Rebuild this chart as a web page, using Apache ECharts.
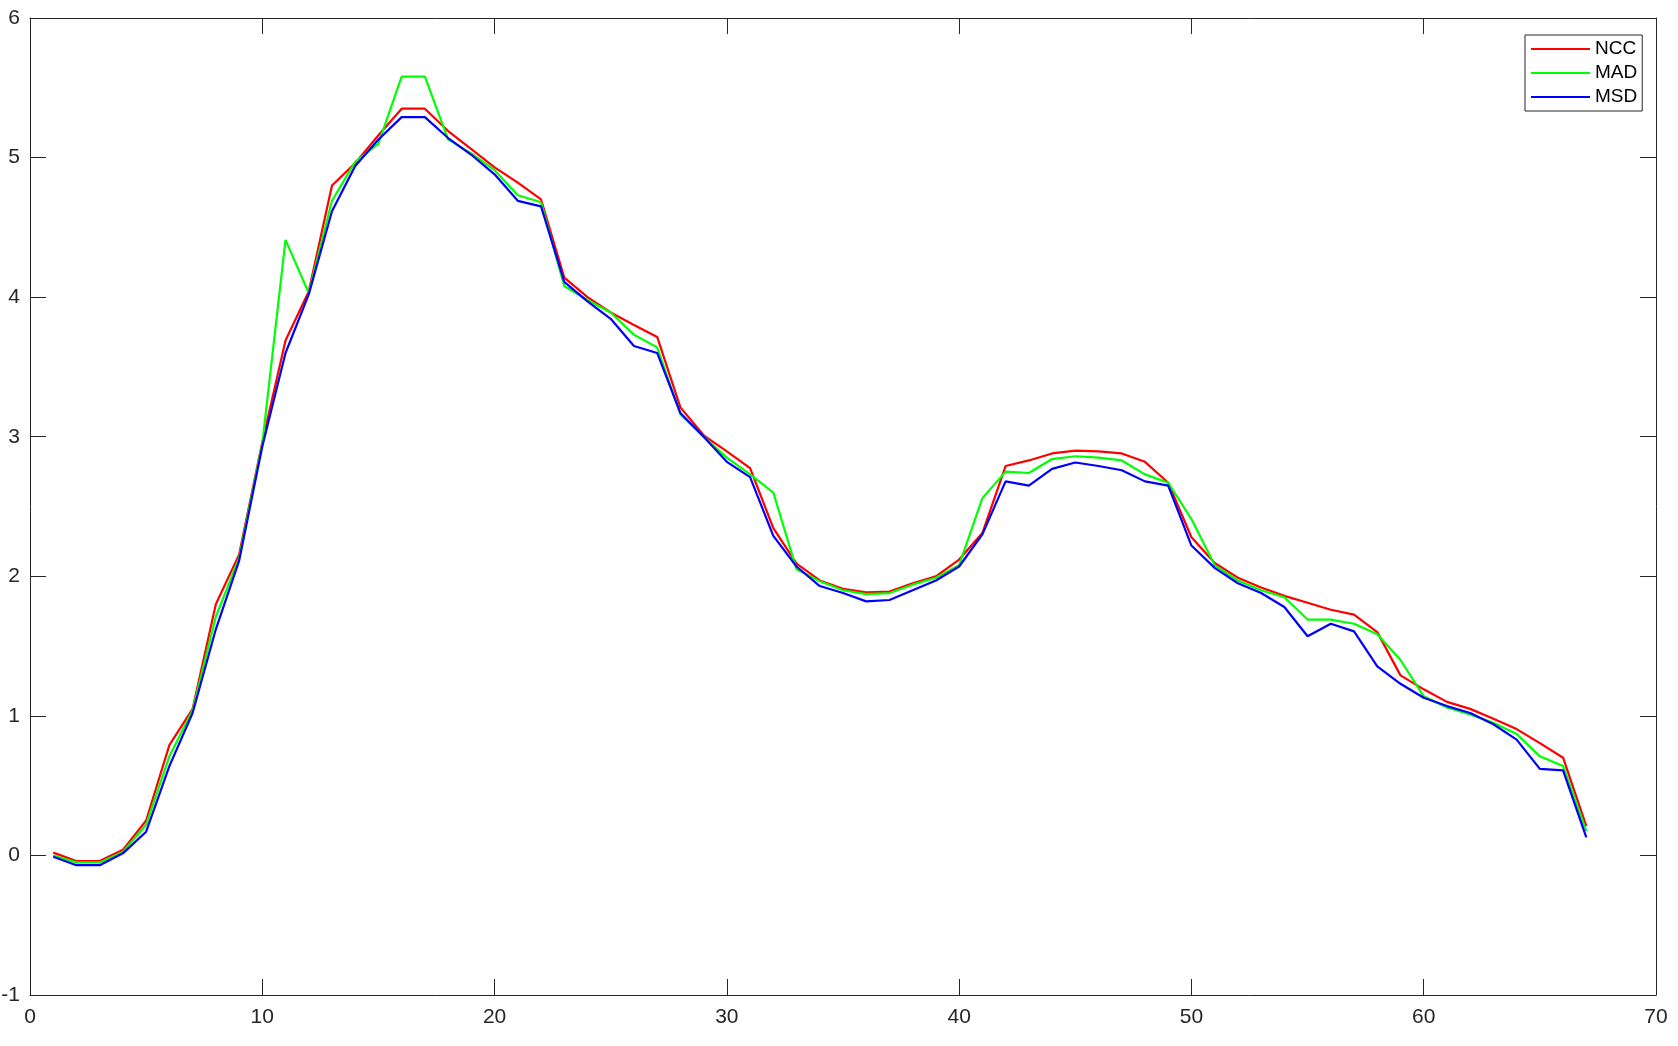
<!DOCTYPE html>
<html>
<head>
<meta charset="utf-8">
<script src="https://cdn.jsdelivr.net/npm/echarts@6/dist/echarts.min.js"></script>
<style>
html,body{margin:0;padding:0;background:#fff;}
#chart{width:1678px;height:1046px;}
</style>
</head>
<body>
<div id="chart"></div>
<script>
var xValues = [];
for (var i = 1; i <= 67; i++) xValues.push(i);

var ncc = [0.02,-0.04,-0.04,0.04,0.25,0.79,1.05,1.80,2.155,2.96,3.69,4.04,4.80,4.96,5.16,5.35,5.35,5.19,5.06,4.93,4.82,4.70,
  4.14,4.00,3.89,3.80,3.715,3.21,3.01,2.895,2.775,2.345,2.09,1.97,1.91,1.885,1.89,1.95,2.00,2.12,2.31,2.79,2.83,2.88,2.90,
  2.895,2.88,2.82,2.67,2.28,2.095,1.99,1.92,1.86,1.81,1.76,1.725,1.60,1.29,1.19,1.10,1.05,0.98,0.905,0.805,0.70,0.21];
var mad = [0.0,-0.05,-0.05,0.025,0.22,0.71,1.04,1.71,2.13,2.95,4.41,4.03,4.69,4.97,5.10,5.58,5.58,5.13,5.03,4.91,4.73,4.68,
  4.08,3.98,3.89,3.73,3.64,3.16,3.00,2.85,2.73,2.60,2.05,1.965,1.90,1.872,1.88,1.94,1.99,2.08,2.56,2.75,2.74,2.84,2.86,
  2.85,2.83,2.73,2.67,2.41,2.08,1.97,1.90,1.85,1.69,1.69,1.66,1.585,1.40,1.14,1.06,1.01,0.95,0.87,0.71,0.64,0.175];
var msd = [-0.01,-0.07,-0.07,0.015,0.17,0.64,1.02,1.62,2.11,2.93,3.60,4.02,4.615,4.94,5.13,5.29,5.29,5.14,5.02,4.88,4.69,4.65,
  4.11,3.97,3.845,3.65,3.60,3.17,3.00,2.82,2.71,2.29,2.07,1.93,1.88,1.82,1.83,1.90,1.97,2.07,2.30,2.68,2.65,2.77,2.815,
  2.79,2.76,2.68,2.65,2.22,2.06,1.95,1.88,1.78,1.57,1.66,1.605,1.355,1.23,1.13,1.07,1.02,0.94,0.83,0.62,0.61,0.13];

var seriesNames = ['NCC','MAD','MSD'];
var seriesColors = ['#ff0000','#00ff00','#0000ff'];
var seriesValues = [ncc, mad, msd];

var xTicks = {min:0, max:70, interval:10};
var yTicks = {min:-1, max:6, interval:1};

function pairs(vals){ return xValues.map(function(x,i){ return [x, vals[i]]; }); }

var axisColor = '#262626';
var font = '"Liberation Sans", Arial, Helvetica, sans-serif';

function axisCommon(){
  return {
    axisLine:{show:true, onZero:false, lineStyle:{color:axisColor, width:1}},
    axisTick:{show:true, inside:true, length:16, lineStyle:{color:axisColor, width:1}},
    splitLine:{show:false}
  };
}

var chart = echarts.init(document.getElementById('chart'));
var option = {
  animation:false,
  backgroundColor:'#ffffff',
  grid:{left:30, right:22, top:18, bottom:51, containLabel:false, outerBoundsMode:'none'},
  legend:{
    data:seriesNames.map(function(n){ return {name:n, icon:'rect'}; }),
    orient:'vertical',
    left:1525, top:35,
    padding:[4,5,4,6],
    itemWidth:59, itemHeight:2, itemGap:4, itemTextGap:5,
    borderColor:axisColor, borderWidth:1, backgroundColor:'#fff',
    textStyle:{fontFamily:font, fontSize:19, color:'#000', lineHeight:20}
  },
  xAxis:[
    Object.assign({type:'value', position:'bottom', min:xTicks.min, max:xTicks.max, interval:xTicks.interval,
      axisLabel:{show:true, color:axisColor, fontFamily:font, fontSize:21, margin:12}}, axisCommon()),
    Object.assign({type:'value', position:'top', min:xTicks.min, max:xTicks.max, interval:xTicks.interval,
      axisLabel:{show:false}}, axisCommon())
  ],
  yAxis:[
    Object.assign({type:'value', position:'left', min:yTicks.min, max:yTicks.max, interval:yTicks.interval,
      axisLabel:{show:true, color:axisColor, fontFamily:font, fontSize:21, margin:10}}, axisCommon()),
    Object.assign({type:'value', position:'right', min:yTicks.min, max:yTicks.max, interval:yTicks.interval,
      axisLabel:{show:false}}, axisCommon())
  ],
  series: seriesNames.map(function(n, i){
    return {
      name:n, type:'line', xAxisIndex:0, yAxisIndex:0,
      data:pairs(seriesValues[i]),
      symbol:'none', showSymbol:false,
      lineStyle:{color:seriesColors[i], width:2.2},
      itemStyle:{color:seriesColors[i]},
      emphasis:{disabled:true}
    };
  })
};
chart.setOption(option);
</script>
</body>
</html>
